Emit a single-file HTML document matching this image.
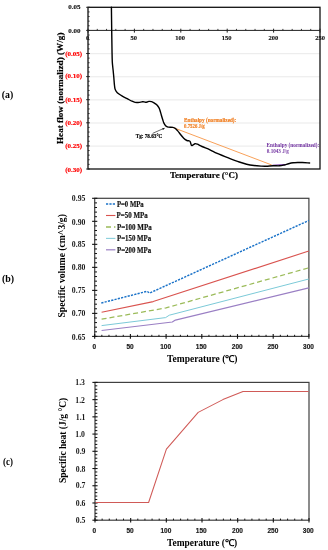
<!DOCTYPE html>
<html><head><meta charset="utf-8"><title>Figure</title>
<style>
html,body{margin:0;padding:0;background:#fff;}
body{width:328px;height:550px;overflow:hidden;}
svg{display:block;}
text{font-family:"Liberation Serif", "Times New Roman", serif;}
.h{stroke-width:0.18px;paint-order:stroke;}
</style></head>
<body>
<svg width="328" height="550" viewBox="0 0 328 550">
<rect width="328" height="550" fill="#fff"/>
<line x1="88.00" y1="53.70" x2="320.00" y2="53.70" stroke="#e9e9e9" stroke-width="1.0" />
<line x1="88.00" y1="76.80" x2="320.00" y2="76.80" stroke="#e9e9e9" stroke-width="1.0" />
<line x1="88.00" y1="99.90" x2="320.00" y2="99.90" stroke="#e9e9e9" stroke-width="1.0" />
<line x1="88.00" y1="123.00" x2="320.00" y2="123.00" stroke="#e9e9e9" stroke-width="1.0" />
<line x1="88.00" y1="146.10" x2="320.00" y2="146.10" stroke="#e9e9e9" stroke-width="1.0" />
<rect x="88.0" y="7.30" width="232.0" height="161.70" fill="none" stroke="#111" stroke-width="1.3"/>
<line x1="88.00" y1="30.40" x2="320.00" y2="30.40" stroke="#222" stroke-width="1.0" />
<line x1="88.00" y1="28.70" x2="88.00" y2="32.60" stroke="#222" stroke-width="1.0" />
<line x1="97.28" y1="28.90" x2="97.28" y2="30.40" stroke="#222" stroke-width="0.9" />
<line x1="106.56" y1="28.90" x2="106.56" y2="30.40" stroke="#222" stroke-width="0.9" />
<line x1="115.84" y1="28.90" x2="115.84" y2="30.40" stroke="#222" stroke-width="0.9" />
<line x1="125.12" y1="28.90" x2="125.12" y2="30.40" stroke="#222" stroke-width="0.9" />
<line x1="134.40" y1="28.70" x2="134.40" y2="32.60" stroke="#222" stroke-width="1.0" />
<line x1="143.68" y1="28.90" x2="143.68" y2="30.40" stroke="#222" stroke-width="0.9" />
<line x1="152.96" y1="28.90" x2="152.96" y2="30.40" stroke="#222" stroke-width="0.9" />
<line x1="162.24" y1="28.90" x2="162.24" y2="30.40" stroke="#222" stroke-width="0.9" />
<line x1="171.52" y1="28.90" x2="171.52" y2="30.40" stroke="#222" stroke-width="0.9" />
<line x1="180.80" y1="28.70" x2="180.80" y2="32.60" stroke="#222" stroke-width="1.0" />
<line x1="190.08" y1="28.90" x2="190.08" y2="30.40" stroke="#222" stroke-width="0.9" />
<line x1="199.36" y1="28.90" x2="199.36" y2="30.40" stroke="#222" stroke-width="0.9" />
<line x1="208.64" y1="28.90" x2="208.64" y2="30.40" stroke="#222" stroke-width="0.9" />
<line x1="217.92" y1="28.90" x2="217.92" y2="30.40" stroke="#222" stroke-width="0.9" />
<line x1="227.20" y1="28.70" x2="227.20" y2="32.60" stroke="#222" stroke-width="1.0" />
<line x1="236.48" y1="28.90" x2="236.48" y2="30.40" stroke="#222" stroke-width="0.9" />
<line x1="245.76" y1="28.90" x2="245.76" y2="30.40" stroke="#222" stroke-width="0.9" />
<line x1="255.04" y1="28.90" x2="255.04" y2="30.40" stroke="#222" stroke-width="0.9" />
<line x1="264.32" y1="28.90" x2="264.32" y2="30.40" stroke="#222" stroke-width="0.9" />
<line x1="273.60" y1="28.70" x2="273.60" y2="32.60" stroke="#222" stroke-width="1.0" />
<line x1="282.88" y1="28.90" x2="282.88" y2="30.40" stroke="#222" stroke-width="0.9" />
<line x1="292.16" y1="28.90" x2="292.16" y2="30.40" stroke="#222" stroke-width="0.9" />
<line x1="301.44" y1="28.90" x2="301.44" y2="30.40" stroke="#222" stroke-width="0.9" />
<line x1="310.72" y1="28.90" x2="310.72" y2="30.40" stroke="#222" stroke-width="0.9" />
<line x1="320.00" y1="28.70" x2="320.00" y2="32.60" stroke="#222" stroke-width="1.0" />
<line x1="86.20" y1="7.30" x2="89.80" y2="7.30" stroke="#222" stroke-width="1.0" />
<line x1="88.00" y1="11.92" x2="89.60" y2="11.92" stroke="#222" stroke-width="0.9" />
<line x1="88.00" y1="16.54" x2="89.60" y2="16.54" stroke="#222" stroke-width="0.9" />
<line x1="88.00" y1="21.16" x2="89.60" y2="21.16" stroke="#222" stroke-width="0.9" />
<line x1="88.00" y1="25.78" x2="89.60" y2="25.78" stroke="#222" stroke-width="0.9" />
<line x1="86.20" y1="30.40" x2="89.80" y2="30.40" stroke="#222" stroke-width="1.0" />
<line x1="88.00" y1="35.02" x2="89.60" y2="35.02" stroke="#222" stroke-width="0.9" />
<line x1="88.00" y1="39.64" x2="89.60" y2="39.64" stroke="#222" stroke-width="0.9" />
<line x1="88.00" y1="44.26" x2="89.60" y2="44.26" stroke="#222" stroke-width="0.9" />
<line x1="88.00" y1="48.88" x2="89.60" y2="48.88" stroke="#222" stroke-width="0.9" />
<line x1="86.20" y1="53.50" x2="89.80" y2="53.50" stroke="#222" stroke-width="1.0" />
<line x1="88.00" y1="58.12" x2="89.60" y2="58.12" stroke="#222" stroke-width="0.9" />
<line x1="88.00" y1="62.74" x2="89.60" y2="62.74" stroke="#222" stroke-width="0.9" />
<line x1="88.00" y1="67.36" x2="89.60" y2="67.36" stroke="#222" stroke-width="0.9" />
<line x1="88.00" y1="71.98" x2="89.60" y2="71.98" stroke="#222" stroke-width="0.9" />
<line x1="86.20" y1="76.60" x2="89.80" y2="76.60" stroke="#222" stroke-width="1.0" />
<line x1="88.00" y1="81.22" x2="89.60" y2="81.22" stroke="#222" stroke-width="0.9" />
<line x1="88.00" y1="85.84" x2="89.60" y2="85.84" stroke="#222" stroke-width="0.9" />
<line x1="88.00" y1="90.46" x2="89.60" y2="90.46" stroke="#222" stroke-width="0.9" />
<line x1="88.00" y1="95.08" x2="89.60" y2="95.08" stroke="#222" stroke-width="0.9" />
<line x1="86.20" y1="99.70" x2="89.80" y2="99.70" stroke="#222" stroke-width="1.0" />
<line x1="88.00" y1="104.32" x2="89.60" y2="104.32" stroke="#222" stroke-width="0.9" />
<line x1="88.00" y1="108.94" x2="89.60" y2="108.94" stroke="#222" stroke-width="0.9" />
<line x1="88.00" y1="113.56" x2="89.60" y2="113.56" stroke="#222" stroke-width="0.9" />
<line x1="88.00" y1="118.18" x2="89.60" y2="118.18" stroke="#222" stroke-width="0.9" />
<line x1="86.20" y1="122.80" x2="89.80" y2="122.80" stroke="#222" stroke-width="1.0" />
<line x1="88.00" y1="127.42" x2="89.60" y2="127.42" stroke="#222" stroke-width="0.9" />
<line x1="88.00" y1="132.04" x2="89.60" y2="132.04" stroke="#222" stroke-width="0.9" />
<line x1="88.00" y1="136.66" x2="89.60" y2="136.66" stroke="#222" stroke-width="0.9" />
<line x1="88.00" y1="141.28" x2="89.60" y2="141.28" stroke="#222" stroke-width="0.9" />
<line x1="86.20" y1="145.90" x2="89.80" y2="145.90" stroke="#222" stroke-width="1.0" />
<line x1="88.00" y1="150.52" x2="89.60" y2="150.52" stroke="#222" stroke-width="0.9" />
<line x1="88.00" y1="155.14" x2="89.60" y2="155.14" stroke="#222" stroke-width="0.9" />
<line x1="88.00" y1="159.76" x2="89.60" y2="159.76" stroke="#222" stroke-width="0.9" />
<line x1="88.00" y1="164.38" x2="89.60" y2="164.38" stroke="#222" stroke-width="0.9" />
<line x1="86.20" y1="169.00" x2="89.80" y2="169.00" stroke="#222" stroke-width="1.0" />
<line x1="172.20" y1="127.20" x2="271.80" y2="165.00" stroke="#f79646" stroke-width="0.9" />
<line x1="272.50" y1="165.40" x2="285.50" y2="164.60" stroke="#7030a0" stroke-width="1.1" />
<path d="M111.40,7.30 C111.45,11.08 111.60,22.88 111.70,30.00 C111.80,37.12 111.90,44.67 112.00,50.00 C112.10,55.33 112.12,58.67 112.30,62.00 C112.48,65.33 112.85,67.45 113.10,70.00 C113.35,72.55 113.58,74.87 113.80,77.30 C114.02,79.73 114.20,82.67 114.40,84.60 C114.60,86.53 114.70,87.78 115.00,88.90 C115.30,90.02 115.60,90.48 116.20,91.30 C116.80,92.12 117.58,92.98 118.60,93.80 C119.62,94.62 120.87,95.38 122.30,96.20 C123.73,97.02 125.58,97.87 127.20,98.70 C128.82,99.53 130.68,100.58 132.00,101.20 C133.32,101.82 134.08,102.18 135.10,102.40 C136.12,102.62 136.98,102.58 138.10,102.50 C139.22,102.42 140.98,102.03 141.80,101.90 C142.62,101.77 142.38,101.65 143.00,101.70 C143.62,101.75 144.78,102.15 145.50,102.20 C146.22,102.25 146.70,102.13 147.30,102.00 C147.90,101.87 148.38,101.45 149.10,101.40 C149.82,101.35 150.78,101.47 151.60,101.70 C152.42,101.93 153.18,102.32 154.00,102.80 C154.82,103.28 155.68,103.78 156.50,104.60 C157.32,105.42 158.30,106.68 158.90,107.70 C159.50,108.72 159.70,109.48 160.10,110.70 C160.50,111.92 160.88,113.57 161.30,115.00 C161.72,116.43 162.18,117.98 162.60,119.30 C163.02,120.62 163.30,121.83 163.80,122.90 C164.30,123.97 165.00,125.03 165.60,125.70 C166.20,126.37 166.70,126.65 167.40,126.90 C168.10,127.15 168.90,127.12 169.80,127.20 C170.70,127.28 171.90,127.20 172.80,127.40 C173.70,127.60 174.38,127.82 175.20,128.40 C176.02,128.98 176.88,129.97 177.70,130.90 C178.52,131.83 179.10,132.78 180.10,134.00 C181.10,135.22 182.57,137.12 183.70,138.20 C184.83,139.28 185.92,140.03 186.90,140.50 C187.88,140.97 189.00,140.68 189.60,141.00 C190.20,141.32 190.20,141.68 190.50,142.40 C190.80,143.12 191.02,144.85 191.40,145.30 C191.78,145.75 192.18,145.37 192.80,145.10 C193.42,144.83 194.33,143.85 195.10,143.70 C195.87,143.55 196.25,143.73 197.40,144.20 C198.55,144.67 199.90,145.57 202.00,146.50 C204.10,147.43 207.47,148.65 210.00,149.80 C212.53,150.95 213.97,151.98 217.20,153.40 C220.43,154.82 225.72,156.87 229.40,158.30 C233.08,159.73 236.43,161.02 239.30,162.00 C242.17,162.98 244.15,163.62 246.60,164.20 C249.05,164.78 251.55,165.18 254.00,165.50 C256.45,165.82 259.28,165.98 261.30,166.10 C263.32,166.22 264.13,166.25 266.10,166.20 C268.07,166.15 270.85,165.87 273.10,165.80 C275.35,165.73 277.77,165.93 279.60,165.80 C281.43,165.67 282.60,165.35 284.10,165.00 C285.60,164.65 287.10,164.07 288.60,163.70 C290.10,163.33 291.58,163.00 293.10,162.80 C294.62,162.60 296.17,162.55 297.70,162.50 C299.23,162.45 300.32,162.42 302.30,162.50 C304.28,162.58 308.38,162.92 309.60,163.00" fill="none" stroke="#000" stroke-width="1.4" stroke-linejoin="round" stroke-linecap="round" />
<line x1="152.60" y1="133.40" x2="163.50" y2="128.50" stroke="#000" stroke-width="0.6" />
<polygon points="165.2,127.8 162.2,128.4 163.0,130.0" fill="#000"/>
<rect x="94.7" y="198.3" width="214.20" height="138.10" fill="none" stroke="#404040" stroke-width="1.2"/>
<line x1="94.70" y1="334.10" x2="94.70" y2="338.80" stroke="#111" stroke-width="1.1" />
<line x1="101.84" y1="334.80" x2="101.84" y2="336.40" stroke="#111" stroke-width="1.0" />
<line x1="108.98" y1="334.80" x2="108.98" y2="336.40" stroke="#111" stroke-width="1.0" />
<line x1="116.12" y1="334.80" x2="116.12" y2="336.40" stroke="#111" stroke-width="1.0" />
<line x1="123.26" y1="334.80" x2="123.26" y2="336.40" stroke="#111" stroke-width="1.0" />
<line x1="130.40" y1="334.10" x2="130.40" y2="338.80" stroke="#111" stroke-width="1.1" />
<line x1="137.54" y1="334.80" x2="137.54" y2="336.40" stroke="#111" stroke-width="1.0" />
<line x1="144.68" y1="334.80" x2="144.68" y2="336.40" stroke="#111" stroke-width="1.0" />
<line x1="151.82" y1="334.80" x2="151.82" y2="336.40" stroke="#111" stroke-width="1.0" />
<line x1="158.96" y1="334.80" x2="158.96" y2="336.40" stroke="#111" stroke-width="1.0" />
<line x1="166.10" y1="334.10" x2="166.10" y2="338.80" stroke="#111" stroke-width="1.1" />
<line x1="173.24" y1="334.80" x2="173.24" y2="336.40" stroke="#111" stroke-width="1.0" />
<line x1="180.38" y1="334.80" x2="180.38" y2="336.40" stroke="#111" stroke-width="1.0" />
<line x1="187.52" y1="334.80" x2="187.52" y2="336.40" stroke="#111" stroke-width="1.0" />
<line x1="194.66" y1="334.80" x2="194.66" y2="336.40" stroke="#111" stroke-width="1.0" />
<line x1="201.80" y1="334.10" x2="201.80" y2="338.80" stroke="#111" stroke-width="1.1" />
<line x1="208.94" y1="334.80" x2="208.94" y2="336.40" stroke="#111" stroke-width="1.0" />
<line x1="216.08" y1="334.80" x2="216.08" y2="336.40" stroke="#111" stroke-width="1.0" />
<line x1="223.22" y1="334.80" x2="223.22" y2="336.40" stroke="#111" stroke-width="1.0" />
<line x1="230.36" y1="334.80" x2="230.36" y2="336.40" stroke="#111" stroke-width="1.0" />
<line x1="237.50" y1="334.10" x2="237.50" y2="338.80" stroke="#111" stroke-width="1.1" />
<line x1="244.64" y1="334.80" x2="244.64" y2="336.40" stroke="#111" stroke-width="1.0" />
<line x1="251.78" y1="334.80" x2="251.78" y2="336.40" stroke="#111" stroke-width="1.0" />
<line x1="258.92" y1="334.80" x2="258.92" y2="336.40" stroke="#111" stroke-width="1.0" />
<line x1="266.06" y1="334.80" x2="266.06" y2="336.40" stroke="#111" stroke-width="1.0" />
<line x1="273.20" y1="334.10" x2="273.20" y2="338.80" stroke="#111" stroke-width="1.1" />
<line x1="280.34" y1="334.80" x2="280.34" y2="336.40" stroke="#111" stroke-width="1.0" />
<line x1="287.48" y1="334.80" x2="287.48" y2="336.40" stroke="#111" stroke-width="1.0" />
<line x1="294.62" y1="334.80" x2="294.62" y2="336.40" stroke="#111" stroke-width="1.0" />
<line x1="301.76" y1="334.80" x2="301.76" y2="336.40" stroke="#111" stroke-width="1.0" />
<line x1="308.90" y1="334.10" x2="308.90" y2="338.80" stroke="#111" stroke-width="1.1" />
<line x1="92.10" y1="198.30" x2="97.30" y2="198.30" stroke="#111" stroke-width="1.1" />
<line x1="94.70" y1="202.90" x2="97.00" y2="202.90" stroke="#111" stroke-width="1.0" />
<line x1="94.70" y1="207.51" x2="97.00" y2="207.51" stroke="#111" stroke-width="1.0" />
<line x1="94.70" y1="212.11" x2="97.00" y2="212.11" stroke="#111" stroke-width="1.0" />
<line x1="94.70" y1="216.71" x2="97.00" y2="216.71" stroke="#111" stroke-width="1.0" />
<line x1="92.10" y1="221.32" x2="97.30" y2="221.32" stroke="#111" stroke-width="1.1" />
<line x1="94.70" y1="225.92" x2="97.00" y2="225.92" stroke="#111" stroke-width="1.0" />
<line x1="94.70" y1="230.52" x2="97.00" y2="230.52" stroke="#111" stroke-width="1.0" />
<line x1="94.70" y1="235.13" x2="97.00" y2="235.13" stroke="#111" stroke-width="1.0" />
<line x1="94.70" y1="239.73" x2="97.00" y2="239.73" stroke="#111" stroke-width="1.0" />
<line x1="92.10" y1="244.33" x2="97.30" y2="244.33" stroke="#111" stroke-width="1.1" />
<line x1="94.70" y1="248.94" x2="97.00" y2="248.94" stroke="#111" stroke-width="1.0" />
<line x1="94.70" y1="253.54" x2="97.00" y2="253.54" stroke="#111" stroke-width="1.0" />
<line x1="94.70" y1="258.14" x2="97.00" y2="258.14" stroke="#111" stroke-width="1.0" />
<line x1="94.70" y1="262.75" x2="97.00" y2="262.75" stroke="#111" stroke-width="1.0" />
<line x1="92.10" y1="267.35" x2="97.30" y2="267.35" stroke="#111" stroke-width="1.1" />
<line x1="94.70" y1="271.95" x2="97.00" y2="271.95" stroke="#111" stroke-width="1.0" />
<line x1="94.70" y1="276.56" x2="97.00" y2="276.56" stroke="#111" stroke-width="1.0" />
<line x1="94.70" y1="281.16" x2="97.00" y2="281.16" stroke="#111" stroke-width="1.0" />
<line x1="94.70" y1="285.76" x2="97.00" y2="285.76" stroke="#111" stroke-width="1.0" />
<line x1="92.10" y1="290.37" x2="97.30" y2="290.37" stroke="#111" stroke-width="1.1" />
<line x1="94.70" y1="294.97" x2="97.00" y2="294.97" stroke="#111" stroke-width="1.0" />
<line x1="94.70" y1="299.57" x2="97.00" y2="299.57" stroke="#111" stroke-width="1.0" />
<line x1="94.70" y1="304.18" x2="97.00" y2="304.18" stroke="#111" stroke-width="1.0" />
<line x1="94.70" y1="308.78" x2="97.00" y2="308.78" stroke="#111" stroke-width="1.0" />
<line x1="92.10" y1="313.38" x2="97.30" y2="313.38" stroke="#111" stroke-width="1.1" />
<line x1="94.70" y1="317.99" x2="97.00" y2="317.99" stroke="#111" stroke-width="1.0" />
<line x1="94.70" y1="322.59" x2="97.00" y2="322.59" stroke="#111" stroke-width="1.0" />
<line x1="94.70" y1="327.19" x2="97.00" y2="327.19" stroke="#111" stroke-width="1.0" />
<line x1="94.70" y1="331.80" x2="97.00" y2="331.80" stroke="#111" stroke-width="1.0" />
<line x1="92.10" y1="336.40" x2="97.30" y2="336.40" stroke="#111" stroke-width="1.1" />
<polyline points="101.30,303.00 147.10,291.30 149.60,293.10 308.80,220.50" fill="none" stroke="#1a72c8" stroke-width="1.45" stroke-linejoin="round" stroke-dasharray="2.2 1.2"/>
<polyline points="101.60,312.30 153.20,301.60 308.80,251.00" fill="none" stroke="#d9534f" stroke-width="1.1" stroke-linejoin="round" />
<polyline points="101.60,319.20 166.00,307.90 308.80,267.80" fill="none" stroke="#9bbb59" stroke-width="1.25" stroke-linejoin="round" stroke-dasharray="5 3"/>
<polyline points="101.60,325.60 165.60,317.60 169.30,315.20 308.80,279.00" fill="none" stroke="#7ccad8" stroke-width="1.0" stroke-linejoin="round" />
<polyline points="101.60,330.50 172.30,322.00 175.40,320.10 308.80,287.90" fill="none" stroke="#9a7fc4" stroke-width="1.2" stroke-linejoin="round" />
<line x1="106.00" y1="204.05" x2="115.40" y2="204.05" stroke="#1a72c8" stroke-width="1.45" stroke-dasharray="2.2 1.2"/>
<line x1="106.00" y1="215.49" x2="115.40" y2="215.49" stroke="#d9534f" stroke-width="1.1" />
<line x1="106.00" y1="226.93" x2="115.40" y2="226.93" stroke="#9bbb59" stroke-width="1.4" stroke-dasharray="5 3"/>
<line x1="106.00" y1="238.37" x2="115.40" y2="238.37" stroke="#7ccad8" stroke-width="1.0" />
<line x1="106.00" y1="249.81" x2="115.40" y2="249.81" stroke="#9a7fc4" stroke-width="1.2" />
<rect x="95.0" y="382.4" width="214.00" height="137.80" fill="none" stroke="#404040" stroke-width="1.2"/>
<line x1="95.00" y1="517.90" x2="95.00" y2="522.60" stroke="#111" stroke-width="1.1" />
<line x1="102.13" y1="518.60" x2="102.13" y2="520.20" stroke="#111" stroke-width="1.0" />
<line x1="109.27" y1="518.60" x2="109.27" y2="520.20" stroke="#111" stroke-width="1.0" />
<line x1="116.40" y1="518.60" x2="116.40" y2="520.20" stroke="#111" stroke-width="1.0" />
<line x1="123.53" y1="518.60" x2="123.53" y2="520.20" stroke="#111" stroke-width="1.0" />
<line x1="130.67" y1="517.90" x2="130.67" y2="522.60" stroke="#111" stroke-width="1.1" />
<line x1="137.80" y1="518.60" x2="137.80" y2="520.20" stroke="#111" stroke-width="1.0" />
<line x1="144.93" y1="518.60" x2="144.93" y2="520.20" stroke="#111" stroke-width="1.0" />
<line x1="152.07" y1="518.60" x2="152.07" y2="520.20" stroke="#111" stroke-width="1.0" />
<line x1="159.20" y1="518.60" x2="159.20" y2="520.20" stroke="#111" stroke-width="1.0" />
<line x1="166.33" y1="517.90" x2="166.33" y2="522.60" stroke="#111" stroke-width="1.1" />
<line x1="173.47" y1="518.60" x2="173.47" y2="520.20" stroke="#111" stroke-width="1.0" />
<line x1="180.60" y1="518.60" x2="180.60" y2="520.20" stroke="#111" stroke-width="1.0" />
<line x1="187.73" y1="518.60" x2="187.73" y2="520.20" stroke="#111" stroke-width="1.0" />
<line x1="194.87" y1="518.60" x2="194.87" y2="520.20" stroke="#111" stroke-width="1.0" />
<line x1="202.00" y1="517.90" x2="202.00" y2="522.60" stroke="#111" stroke-width="1.1" />
<line x1="209.13" y1="518.60" x2="209.13" y2="520.20" stroke="#111" stroke-width="1.0" />
<line x1="216.27" y1="518.60" x2="216.27" y2="520.20" stroke="#111" stroke-width="1.0" />
<line x1="223.40" y1="518.60" x2="223.40" y2="520.20" stroke="#111" stroke-width="1.0" />
<line x1="230.53" y1="518.60" x2="230.53" y2="520.20" stroke="#111" stroke-width="1.0" />
<line x1="237.67" y1="517.90" x2="237.67" y2="522.60" stroke="#111" stroke-width="1.1" />
<line x1="244.80" y1="518.60" x2="244.80" y2="520.20" stroke="#111" stroke-width="1.0" />
<line x1="251.93" y1="518.60" x2="251.93" y2="520.20" stroke="#111" stroke-width="1.0" />
<line x1="259.07" y1="518.60" x2="259.07" y2="520.20" stroke="#111" stroke-width="1.0" />
<line x1="266.20" y1="518.60" x2="266.20" y2="520.20" stroke="#111" stroke-width="1.0" />
<line x1="273.33" y1="517.90" x2="273.33" y2="522.60" stroke="#111" stroke-width="1.1" />
<line x1="280.47" y1="518.60" x2="280.47" y2="520.20" stroke="#111" stroke-width="1.0" />
<line x1="287.60" y1="518.60" x2="287.60" y2="520.20" stroke="#111" stroke-width="1.0" />
<line x1="294.73" y1="518.60" x2="294.73" y2="520.20" stroke="#111" stroke-width="1.0" />
<line x1="301.87" y1="518.60" x2="301.87" y2="520.20" stroke="#111" stroke-width="1.0" />
<line x1="309.00" y1="517.90" x2="309.00" y2="522.60" stroke="#111" stroke-width="1.1" />
<line x1="92.40" y1="382.40" x2="97.60" y2="382.40" stroke="#111" stroke-width="1.1" />
<line x1="95.00" y1="385.84" x2="97.30" y2="385.84" stroke="#111" stroke-width="1.0" />
<line x1="95.00" y1="389.29" x2="97.30" y2="389.29" stroke="#111" stroke-width="1.0" />
<line x1="95.00" y1="392.73" x2="97.30" y2="392.73" stroke="#111" stroke-width="1.0" />
<line x1="95.00" y1="396.18" x2="97.30" y2="396.18" stroke="#111" stroke-width="1.0" />
<line x1="92.40" y1="399.62" x2="97.60" y2="399.62" stroke="#111" stroke-width="1.1" />
<line x1="95.00" y1="403.07" x2="97.30" y2="403.07" stroke="#111" stroke-width="1.0" />
<line x1="95.00" y1="406.51" x2="97.30" y2="406.51" stroke="#111" stroke-width="1.0" />
<line x1="95.00" y1="409.96" x2="97.30" y2="409.96" stroke="#111" stroke-width="1.0" />
<line x1="95.00" y1="413.40" x2="97.30" y2="413.40" stroke="#111" stroke-width="1.0" />
<line x1="92.40" y1="416.85" x2="97.60" y2="416.85" stroke="#111" stroke-width="1.1" />
<line x1="95.00" y1="420.30" x2="97.30" y2="420.30" stroke="#111" stroke-width="1.0" />
<line x1="95.00" y1="423.74" x2="97.30" y2="423.74" stroke="#111" stroke-width="1.0" />
<line x1="95.00" y1="427.19" x2="97.30" y2="427.19" stroke="#111" stroke-width="1.0" />
<line x1="95.00" y1="430.63" x2="97.30" y2="430.63" stroke="#111" stroke-width="1.0" />
<line x1="92.40" y1="434.07" x2="97.60" y2="434.07" stroke="#111" stroke-width="1.1" />
<line x1="95.00" y1="437.52" x2="97.30" y2="437.52" stroke="#111" stroke-width="1.0" />
<line x1="95.00" y1="440.97" x2="97.30" y2="440.97" stroke="#111" stroke-width="1.0" />
<line x1="95.00" y1="444.41" x2="97.30" y2="444.41" stroke="#111" stroke-width="1.0" />
<line x1="95.00" y1="447.86" x2="97.30" y2="447.86" stroke="#111" stroke-width="1.0" />
<line x1="92.40" y1="451.30" x2="97.60" y2="451.30" stroke="#111" stroke-width="1.1" />
<line x1="95.00" y1="454.75" x2="97.30" y2="454.75" stroke="#111" stroke-width="1.0" />
<line x1="95.00" y1="458.19" x2="97.30" y2="458.19" stroke="#111" stroke-width="1.0" />
<line x1="95.00" y1="461.63" x2="97.30" y2="461.63" stroke="#111" stroke-width="1.0" />
<line x1="95.00" y1="465.08" x2="97.30" y2="465.08" stroke="#111" stroke-width="1.0" />
<line x1="92.40" y1="468.53" x2="97.60" y2="468.53" stroke="#111" stroke-width="1.1" />
<line x1="95.00" y1="471.97" x2="97.30" y2="471.97" stroke="#111" stroke-width="1.0" />
<line x1="95.00" y1="475.42" x2="97.30" y2="475.42" stroke="#111" stroke-width="1.0" />
<line x1="95.00" y1="478.86" x2="97.30" y2="478.86" stroke="#111" stroke-width="1.0" />
<line x1="95.00" y1="482.31" x2="97.30" y2="482.31" stroke="#111" stroke-width="1.0" />
<line x1="92.40" y1="485.75" x2="97.60" y2="485.75" stroke="#111" stroke-width="1.1" />
<line x1="95.00" y1="489.20" x2="97.30" y2="489.20" stroke="#111" stroke-width="1.0" />
<line x1="95.00" y1="492.64" x2="97.30" y2="492.64" stroke="#111" stroke-width="1.0" />
<line x1="95.00" y1="496.09" x2="97.30" y2="496.09" stroke="#111" stroke-width="1.0" />
<line x1="95.00" y1="499.53" x2="97.30" y2="499.53" stroke="#111" stroke-width="1.0" />
<line x1="92.40" y1="502.98" x2="97.60" y2="502.98" stroke="#111" stroke-width="1.1" />
<line x1="95.00" y1="506.42" x2="97.30" y2="506.42" stroke="#111" stroke-width="1.0" />
<line x1="95.00" y1="509.87" x2="97.30" y2="509.87" stroke="#111" stroke-width="1.0" />
<line x1="95.00" y1="513.31" x2="97.30" y2="513.31" stroke="#111" stroke-width="1.0" />
<line x1="95.00" y1="516.76" x2="97.30" y2="516.76" stroke="#111" stroke-width="1.0" />
<line x1="92.40" y1="520.20" x2="97.60" y2="520.20" stroke="#111" stroke-width="1.1" />
<polyline points="95.60,502.50 148.60,502.50 166.40,449.20 198.20,412.40 222.90,399.60 243.00,391.50 308.60,391.50" fill="none" stroke="#d05a57" stroke-width="1.05" stroke-linejoin="round" />
<text x="74.30" y="9.14" font-size="7.0" fill="#1a1a1a" class="h" stroke="#1a1a1a" text-anchor="middle" font-weight="bold">0.05</text>
<text x="74.30" y="32.94" font-size="7.0" fill="#1a1a1a" class="h" stroke="#1a1a1a" text-anchor="middle" font-weight="bold">0.00</text>
<text x="73.60" y="55.64" font-size="7.0" fill="#ff0000" class="h" stroke="#ff0000" text-anchor="middle" font-weight="bold">(0.05)</text>
<text x="73.60" y="78.44" font-size="7.0" fill="#ff0000" class="h" stroke="#ff0000" text-anchor="middle" font-weight="bold">(0.10)</text>
<text x="73.60" y="102.24" font-size="7.0" fill="#ff0000" class="h" stroke="#ff0000" text-anchor="middle" font-weight="bold">(0.15)</text>
<text x="73.60" y="125.04" font-size="7.0" fill="#ff0000" class="h" stroke="#ff0000" text-anchor="middle" font-weight="bold">(0.20)</text>
<text x="73.60" y="147.84" font-size="7.0" fill="#ff0000" class="h" stroke="#ff0000" text-anchor="middle" font-weight="bold">(0.25)</text>
<text x="73.60" y="171.64" font-size="7.0" fill="#ff0000" class="h" stroke="#ff0000" text-anchor="middle" font-weight="bold">(0.30)</text>
<text x="87.60" y="40.38" font-size="6.5" fill="#1a1a1a" class="h" stroke="#1a1a1a" text-anchor="middle" font-weight="bold">0</text>
<text x="133.80" y="40.38" font-size="6.5" fill="#1a1a1a" class="h" stroke="#1a1a1a" text-anchor="middle" font-weight="bold">50</text>
<text x="180.00" y="40.38" font-size="6.5" fill="#1a1a1a" class="h" stroke="#1a1a1a" text-anchor="middle" font-weight="bold">100</text>
<text x="226.70" y="40.38" font-size="6.5" fill="#1a1a1a" class="h" stroke="#1a1a1a" text-anchor="middle" font-weight="bold">150</text>
<text x="273.40" y="40.38" font-size="6.5" fill="#1a1a1a" class="h" stroke="#1a1a1a" text-anchor="middle" font-weight="bold">200</text>
<text x="320.10" y="40.38" font-size="6.5" fill="#1a1a1a" class="h" stroke="#1a1a1a" text-anchor="middle" font-weight="bold">250</text>
<text transform="translate(62.74,88.30) rotate(-90)" x="0" y="0" font-size="9.2" fill="#000" class="h" stroke="#000" text-anchor="middle" font-weight="bold" textLength="111.55" lengthAdjust="spacingAndGlyphs">Heat flow (normalizd) (W/g)</text>
<text x="203.90" y="177.77" font-size="9.0" fill="#000" class="h" stroke="#000" text-anchor="middle" font-weight="bold" textLength="67.96" lengthAdjust="spacingAndGlyphs">Temperature (°C)</text>
<text x="7.50" y="97.73" font-size="9.4" fill="#000"  text-anchor="middle" font-weight="bold" textLength="11.50" lengthAdjust="spacingAndGlyphs">(a)</text>
<text x="210.20" y="122.28" font-size="5.4" fill="#f07f22" class="h" stroke="#f07f22" text-anchor="middle" font-weight="bold" textLength="52.26" lengthAdjust="spacingAndGlyphs">Enthalpy (normalized):</text>
<text x="194.40" y="128.08" font-size="5.4" fill="#f07f22" class="h" stroke="#f07f22" text-anchor="middle" font-weight="bold" textLength="20.62" lengthAdjust="spacingAndGlyphs">0.7526 J/g</text>
<text x="292.90" y="146.68" font-size="5.4" fill="#7030a0"  text-anchor="middle" font-weight="bold" textLength="52.78" lengthAdjust="spacingAndGlyphs">Enthalpy (normalized):</text>
<text x="277.80" y="153.28" font-size="5.4" fill="#7030a0"  text-anchor="middle" font-weight="bold" textLength="22.04" lengthAdjust="spacingAndGlyphs">0.1043 J/g</text>
<text x="149.00" y="137.98" font-size="5.4" fill="#000" class="h" stroke="#000" text-anchor="middle" font-weight="bold" textLength="26.67" lengthAdjust="spacingAndGlyphs">Tg: 78.63°C</text>
<text x="78.60" y="200.94" font-size="7.75" fill="#1a1a1a"  text-anchor="middle" font-weight="bold">0.95</text>
<text x="78.60" y="224.58" font-size="7.75" fill="#1a1a1a"  text-anchor="middle" font-weight="bold">0.90</text>
<text x="78.60" y="247.21" font-size="7.75" fill="#1a1a1a"  text-anchor="middle" font-weight="bold">0.85</text>
<text x="78.60" y="269.84" font-size="7.75" fill="#1a1a1a"  text-anchor="middle" font-weight="bold">0.80</text>
<text x="78.60" y="293.48" font-size="7.75" fill="#1a1a1a"  text-anchor="middle" font-weight="bold">0.75</text>
<text x="78.60" y="316.11" font-size="7.75" fill="#1a1a1a"  text-anchor="middle" font-weight="bold">0.70</text>
<text x="78.60" y="339.74" font-size="7.75" fill="#1a1a1a"  text-anchor="middle" font-weight="bold">0.65</text>
<text x="94.40" y="348.54" font-size="6.5" fill="#1a1a1a" class="h" stroke="#1a1a1a" style="font-family:'Liberation Sans', sans-serif" text-anchor="middle" font-weight="bold">0</text>
<text x="130.00" y="348.54" font-size="6.5" fill="#1a1a1a" class="h" stroke="#1a1a1a" style="font-family:'Liberation Sans', sans-serif" text-anchor="middle" font-weight="bold">50</text>
<text x="165.60" y="348.54" font-size="6.5" fill="#1a1a1a" class="h" stroke="#1a1a1a" style="font-family:'Liberation Sans', sans-serif" text-anchor="middle" font-weight="bold">100</text>
<text x="201.20" y="348.54" font-size="6.5" fill="#1a1a1a" class="h" stroke="#1a1a1a" style="font-family:'Liberation Sans', sans-serif" text-anchor="middle" font-weight="bold">150</text>
<text x="237.30" y="348.54" font-size="6.5" fill="#1a1a1a" class="h" stroke="#1a1a1a" style="font-family:'Liberation Sans', sans-serif" text-anchor="middle" font-weight="bold">200</text>
<text x="272.90" y="348.54" font-size="6.5" fill="#1a1a1a" class="h" stroke="#1a1a1a" style="font-family:'Liberation Sans', sans-serif" text-anchor="middle" font-weight="bold">250</text>
<text x="308.50" y="348.54" font-size="6.5" fill="#1a1a1a" class="h" stroke="#1a1a1a" style="font-family:'Liberation Sans', sans-serif" text-anchor="middle" font-weight="bold">300</text>
<text transform="translate(64.94,265.80) rotate(-90)" x="0" y="0" font-size="9.8" fill="#000"  text-anchor="middle" font-weight="bold" textLength="103.38" lengthAdjust="spacingAndGlyphs">Specific volume (cm^3/g)</text>
<text x="202.30" y="361.74" font-size="9.5" fill="#000"  text-anchor="middle" font-weight="bold" textLength="70.47" lengthAdjust="spacingAndGlyphs">Temperature (℃)</text>
<text x="8.00" y="281.53" font-size="9.8" fill="#000"  text-anchor="middle" font-weight="bold" textLength="12.15" lengthAdjust="spacingAndGlyphs">(b)</text>
<text x="130.30" y="206.68" font-size="7.6" fill="#111" class="h" stroke="#111" text-anchor="middle" font-weight="bold" textLength="26.85" lengthAdjust="spacingAndGlyphs">P=0 MPa</text>
<text x="132.10" y="218.40" font-size="7.6" fill="#111" class="h" stroke="#111" text-anchor="middle" font-weight="bold" textLength="31.14" lengthAdjust="spacingAndGlyphs">P=50 MPa</text>
<text x="134.30" y="230.12" font-size="7.6" fill="#111" class="h" stroke="#111" text-anchor="middle" font-weight="bold" textLength="34.82" lengthAdjust="spacingAndGlyphs">P=100 MPa</text>
<text x="134.10" y="240.84" font-size="7.6" fill="#111" class="h" stroke="#111" text-anchor="middle" font-weight="bold" textLength="34.15" lengthAdjust="spacingAndGlyphs">P=150 MPa</text>
<text x="134.10" y="252.56" font-size="7.6" fill="#111" class="h" stroke="#111" text-anchor="middle" font-weight="bold" textLength="34.15" lengthAdjust="spacingAndGlyphs">P=200 MPa</text>
<text x="80.10" y="385.04" font-size="7.75" fill="#1a1a1a"  text-anchor="middle" font-weight="bold">1.3</text>
<text x="80.10" y="402.59" font-size="7.75" fill="#1a1a1a"  text-anchor="middle" font-weight="bold">1.2</text>
<text x="80.60" y="420.14" font-size="7.75" fill="#1a1a1a"  text-anchor="middle" font-weight="bold">1.1</text>
<text x="80.10" y="436.69" font-size="7.75" fill="#1a1a1a"  text-anchor="middle" font-weight="bold">1.0</text>
<text x="80.60" y="454.24" font-size="7.75" fill="#1a1a1a"  text-anchor="middle" font-weight="bold">0.9</text>
<text x="80.60" y="471.79" font-size="7.75" fill="#1a1a1a"  text-anchor="middle" font-weight="bold">0.8</text>
<text x="80.60" y="488.34" font-size="7.75" fill="#1a1a1a"  text-anchor="middle" font-weight="bold">0.7</text>
<text x="80.60" y="505.89" font-size="7.75" fill="#1a1a1a"  text-anchor="middle" font-weight="bold">0.6</text>
<text x="80.60" y="523.44" font-size="7.75" fill="#1a1a1a"  text-anchor="middle" font-weight="bold">0.5</text>
<text x="94.20" y="532.54" font-size="6.5" fill="#1a1a1a" class="h" stroke="#1a1a1a" style="font-family:'Liberation Sans', sans-serif" text-anchor="middle" font-weight="bold">0</text>
<text x="130.03" y="532.54" font-size="6.5" fill="#1a1a1a" class="h" stroke="#1a1a1a" style="font-family:'Liberation Sans', sans-serif" text-anchor="middle" font-weight="bold">50</text>
<text x="165.87" y="532.54" font-size="6.5" fill="#1a1a1a" class="h" stroke="#1a1a1a" style="font-family:'Liberation Sans', sans-serif" text-anchor="middle" font-weight="bold">100</text>
<text x="201.20" y="532.54" font-size="6.5" fill="#1a1a1a" class="h" stroke="#1a1a1a" style="font-family:'Liberation Sans', sans-serif" text-anchor="middle" font-weight="bold">150</text>
<text x="237.53" y="532.54" font-size="6.5" fill="#1a1a1a" class="h" stroke="#1a1a1a" style="font-family:'Liberation Sans', sans-serif" text-anchor="middle" font-weight="bold">200</text>
<text x="272.87" y="532.54" font-size="6.5" fill="#1a1a1a" class="h" stroke="#1a1a1a" style="font-family:'Liberation Sans', sans-serif" text-anchor="middle" font-weight="bold">250</text>
<text x="308.20" y="532.54" font-size="6.5" fill="#1a1a1a" class="h" stroke="#1a1a1a" style="font-family:'Liberation Sans', sans-serif" text-anchor="middle" font-weight="bold">300</text>
<text transform="translate(65.84,440.40) rotate(-90)" x="0" y="0" font-size="9.8" fill="#000"  text-anchor="middle" font-weight="bold" textLength="85.32" lengthAdjust="spacingAndGlyphs">Specific heat (J/g °C)</text>
<text x="202.10" y="545.54" font-size="9.5" fill="#000"  text-anchor="middle" font-weight="bold" textLength="70.05" lengthAdjust="spacingAndGlyphs">Temperature (℃)</text>
<text x="8.00" y="464.63" font-size="9.8" fill="#000"  text-anchor="middle" font-weight="bold" textLength="9.90" lengthAdjust="spacingAndGlyphs">(c)</text>
</svg>
</body></html>
